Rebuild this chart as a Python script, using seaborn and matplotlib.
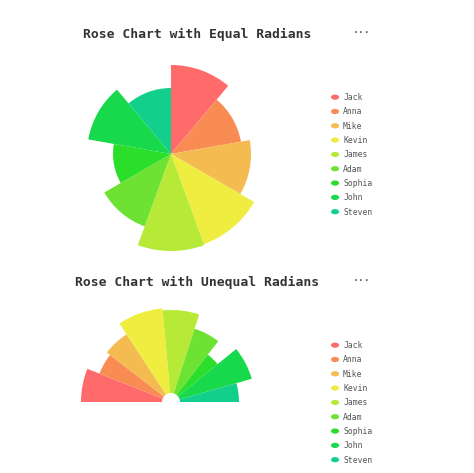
import numpy as np
import matplotlib
matplotlib.use("Agg")
import matplotlib.pyplot as plt
import seaborn as sns
from matplotlib.patches import Ellipse
from matplotlib.legend_handler import HandlerPatch

# data
names = ["Jack", "Anna", "Mike", "Kevin", "James", "Adam", "Sophia", "John", "Steven"]
colors = ["#ff6a6a", "#f98c52", "#f4bb50", "#eeed40", "#b7ea36",
          "#6ee233", "#2ade2a", "#18d84c", "#12cf8c"]
equal_radius = [89, 71, 80, 96, 97, 77, 58, 84, 66]
unequal_radius = [90, 77, 81, 94, 92, 77, 60, 84, 68]
unequal_span = [21.6, 16, 19, 28, 23, 20, 13, 23, 16]  # degrees, adds to ~180

W, H = 474, 473
sns.set_theme(style="white")
plt.rcParams['font.family'] = ['DejaVu Sans Mono', 'DejaVu Sans']

fig = plt.figure(figsize=(W / 100, H / 100), dpi=100)
palette = sns.color_palette(colors)


class HandlerEllipse(HandlerPatch):
    def create_artists(self, legend, orig_handle, xdescent, ydescent,
                       width, height, fontsize, trans):
        c = (width / 2 - xdescent, height / 2 - ydescent)
        p = Ellipse(xy=c, width=width, height=height)
        self.update_prop(p, orig_handle, legend)
        p.set_transform(trans)
        p.set_edgecolor("none")
        return [p]


def polar_axes(cx, cy, rmax=100):
    ax = fig.add_axes([(cx - rmax) / W, (H - cy - rmax) / H, 2 * rmax / W, 2 * rmax / H],
                      projection="polar")
    ax.set_ylim(0, rmax)
    ax.set_axis_off()
    ax.patch.set_alpha(0)
    return ax


def add_legend(bars, top_y):
    leg = fig.legend(bars, names, loc="upper left",
                     bbox_to_anchor=(331 / W, 1 - top_y / H),
                     frameon=False, fontsize=5.8, labelspacing=0.66,
                     handlelength=1.0, handleheight=0.62, handletextpad=0.5,
                     borderpad=0, borderaxespad=0,
                     handler_map={type(bars[0]): HandlerEllipse()})
    for t in leg.get_texts():
        t.set_color("#555555")
    return leg


def add_title(text, y):
    fig.text(197 / W, 1 - y / H, text, ha="center", va="center",
             fontsize=9.4, fontweight="bold", color="#333333")
    fig.text(362 / W, 1 - (y - 4) / H, "...", ha="center", va="center",
             fontsize=7, fontweight="bold", color="#666666")


# ---- equal radians ----
ax1 = polar_axes(171, 154)
ax1.set_theta_zero_location("N")
ax1.set_theta_direction(-1)
n = len(names)
width = 2 * np.pi / n
edges = np.arange(n) * width
bars1 = ax1.bar(edges, equal_radius, width=width, align="edge",
                color=palette, edgecolor="none", linewidth=0)
add_title("Rose Chart with Equal Radians", 34)
add_legend(list(bars1), 93)

# ---- unequal radians (half circle) ----
ax2 = polar_axes(171, 402)
ax2.set_theta_zero_location("W")
ax2.set_theta_direction(-1)
spans = np.deg2rad(unequal_span)
spans = spans * np.pi / spans.sum()
starts = np.concatenate([[0], np.cumsum(spans)[:-1]])
hole = 9
bars2 = ax2.bar(starts, np.array(unequal_radius) - hole, width=spans, bottom=hole,
                align="edge", color=palette, edgecolor="none", linewidth=0)
add_title("Rose Chart with Unequal Radians", 282)
add_legend(list(bars2), 341)

fig.savefig("out.png", dpi=100, facecolor="white")
